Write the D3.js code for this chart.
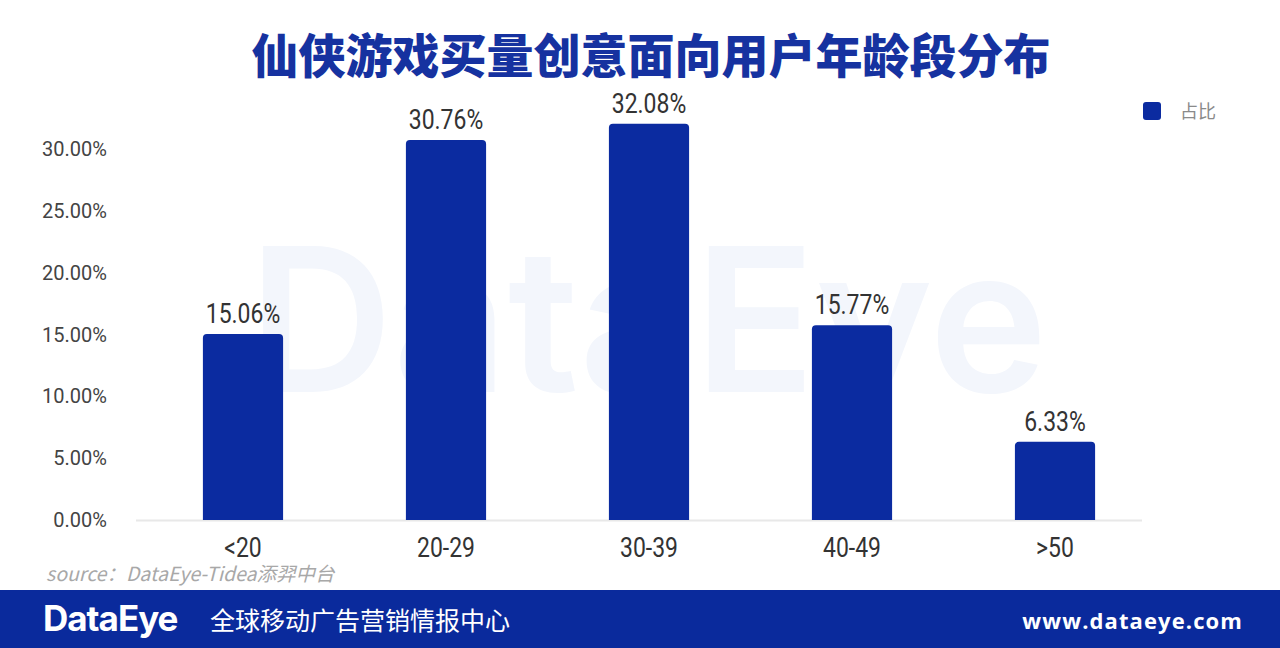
<!DOCTYPE html>
<html>
<head>
<meta charset="utf-8">
<script src="https://cdn.jsdelivr.net/npm/d3@7"></script>
<style>
  body { margin: 0; background: #fff; }
  svg { display: block; }
</style>
</head>
<body>
<svg width="1280" height="648"></svg>
<script>
// data
var categories = ['<20', '20-29', '30-39', '40-49', '>50'];
var shares = [15.06, 30.76, 32.08, 15.77, 6.33];
var yTicks = [0, 5, 10, 15, 20, 25, 30];

var svg = d3.select('svg');
var blue = '#0b2ba0';
var numFont = 'Roboto, sans-serif';
var narrow = 0.82; // squeeze numbers to look condensed

// watermark
svg.append('text')
    .attr('x', 648).attr('y', 392)
    .attr('text-anchor', 'middle')
    .attr('font-family', 'Inter, "Noto Sans", sans-serif')
    .attr('font-size', 200)
    .attr('font-weight', 600)
    .attr('fill', '#f3f6fc')
    .text('DataEye');

// title
svg.append('text')
    .attr('x', 651).attr('y', 73)
    .attr('text-anchor', 'middle')
    .attr('font-family', '"Noto Sans CJK SC", sans-serif')
    .attr('font-size', 47)
    .attr('font-weight', 900)
    .attr('fill', '#1632a0')
    .text('仙侠游戏买量创意面向用户年龄段分布');

var x = d3.scaleBand().domain(categories).range([142, 1156]).paddingInner(0.605).paddingOuter(0.3);
var y = d3.scaleLinear().domain([0, 30]).range([520, 149.5]);

// baseline
svg.append('line')
    .attr('x1', 136).attr('x2', 1142)
    .attr('y1', y(0) + 0.5).attr('y2', y(0) + 0.5)
    .attr('stroke', '#e8e8e8').attr('stroke-width', 2);

// y axis
var yAxis = d3.axisLeft(y).tickValues(yTicks).tickSize(0).tickPadding(0)
    .tickFormat(function(d) { return d.toFixed(2) + '%'; });
var yG = svg.append('g').attr('transform', 'translate(107,0)').call(yAxis);
yG.select('.domain').remove();
yG.selectAll('text')
    .attr('font-family', 'Roboto, sans-serif')
    .attr('font-size', 20)
    .attr('fill', '#444');

// x axis labels
var xG = svg.append('g');
xG.selectAll('text')
    .data(categories)
    .enter().append('text')
    .attr('transform', function(d) {
        return 'translate(' + (x(d) + x.bandwidth() / 2) + ',557) scale(' + narrow + ',1)';
    })
    .attr('text-anchor', 'middle')
    .attr('font-family', numFont)
    .attr('font-size', 28)
    .attr('fill', '#333')
    .text(function(d) { return d; });

// bars with rounded top
var r = 4;
svg.selectAll('.bar')
    .data(shares)
    .enter().append('path')
    .attr('class', 'bar')
    .attr('fill', blue)
    .attr('d', function(d, i) {
        var x0 = x(categories[i]), w = x.bandwidth(), y0 = y(d), y1 = y(0);
        return 'M' + x0 + ',' + y1 + 'V' + (y0 + r) + 'Q' + x0 + ',' + y0 + ' ' + (x0 + r) + ',' + y0 +
            'H' + (x0 + w - r) + 'Q' + (x0 + w) + ',' + y0 + ' ' + (x0 + w) + ',' + (y0 + r) + 'V' + y1 + 'Z';
    });

svg.selectAll('.val')
    .data(shares)
    .enter().append('text')
    .attr('class', 'val')
    .attr('transform', function(d, i) {
        return 'translate(' + (x(categories[i]) + x.bandwidth() / 2) + ',' + (y(d) - 11) + ') scale(' + narrow + ',1)';
    })
    .attr('text-anchor', 'middle')
    .attr('font-family', numFont)
    .attr('font-size', 28)
    .attr('fill', '#333')
    .text(function(d) { return d.toFixed(2) + '%'; });

// legend
svg.append('rect')
    .attr('x', 1143).attr('y', 102).attr('width', 18).attr('height', 18)
    .attr('rx', 3).attr('fill', blue);
svg.append('text')
    .attr('x', 1180).attr('y', 118)
    .attr('font-family', '"Noto Sans CJK SC", sans-serif')
    .attr('font-size', 18)
    .attr('fill', '#8a8a8a')
    .text('占比');

// source
svg.append('text')
    .attr('x', 46).attr('y', 581)
    .attr('font-family', '"Noto Sans CJK SC", "Open Sans", sans-serif')
    .attr('font-size', 19.5)
    .attr('font-style', 'italic')
    .attr('fill', '#a8a8a8')
    .text('source：DataEye-Tidea添羿中台');

// footer band
svg.append('rect')
    .attr('x', 0).attr('y', 590).attr('width', 1280).attr('height', 58)
    .attr('fill', '#0a2a9c');
svg.append('text')
    .attr('x', 43).attr('y', 631)
    .attr('font-family', 'Inter, "Noto Sans", sans-serif')
    .attr('font-size', 35)
    .attr('font-weight', 700)
    .attr('letter-spacing', -1)
    .attr('fill', '#fff')
    .text('DataEye');
svg.append('text')
    .attr('x', 210).attr('y', 630)
    .attr('font-family', '"Noto Sans CJK SC", sans-serif')
    .attr('font-size', 25)
    .attr('fill', '#fff')
    .text('全球移动广告营销情报中心');
svg.append('text')
    .attr('x', 1243).attr('y', 629)
    .attr('text-anchor', 'end')
    .attr('font-family', '"Open Sans", "Noto Sans", sans-serif')
    .attr('font-size', 22)
    .attr('font-weight', 700)
    .attr('letter-spacing', 1.1)
    .attr('fill', '#fff')
    .text('www.dataeye.com');
</script>
</body>
</html>
